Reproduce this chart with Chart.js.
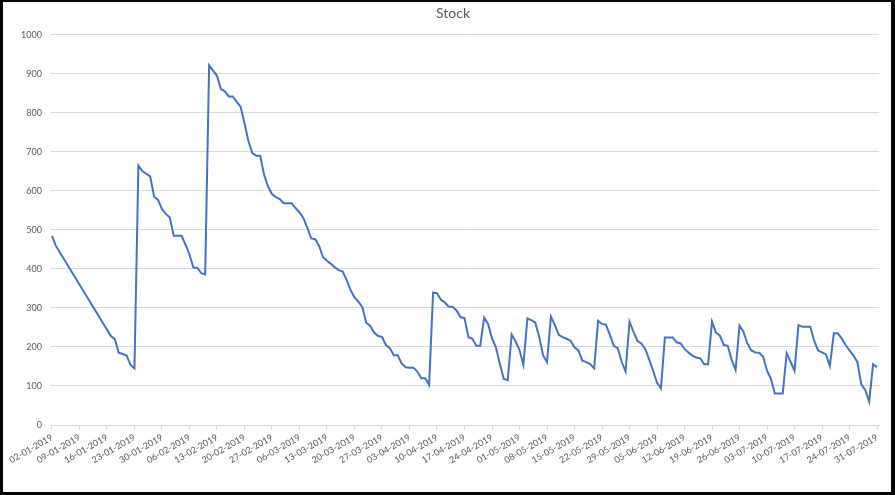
<!DOCTYPE html>
<html>
<head>
<meta charset="utf-8">
<script src="https://cdn.jsdelivr.net/npm/chart.js@4.4.1/dist/chart.umd.min.js"></script>
<style>
  html, body { margin: 0; padding: 0; background: #000; width: 895px; height: 495px; overflow: hidden; }
  #frame { position: absolute; left: 3px; top: 2px; width: 888px; height: 490px; background: #fff; }
  canvas { display: block; }
</style>
</head>
<body>
<div id="frame"><canvas id="stockChart" width="888" height="490"></canvas></div>
<script>
const chartTitle = "Stock";

// one label per week, the day index of tick k is k * 7
const tickLabels = [
  "02-01-2019", "09-01-2019", "16-01-2019", "23-01-2019", "30-01-2019", "06-02-2019",
  "13-02-2019", "20-02-2019", "27-02-2019", "06-03-2019", "13-03-2019", "20-03-2019",
  "27-03-2019", "03-04-2019", "10-04-2019", "17-04-2019", "24-04-2019", "01-05-2019",
  "08-05-2019", "15-05-2019", "22-05-2019", "29-05-2019", "05-06-2019", "12-06-2019",
  "19-06-2019", "26-06-2019", "03-07-2019", "10-07-2019", "17-07-2019", "24-07-2019",
  "31-07-2019"
];

// daily stock from 02-01-2019 (index 0) to 31-07-2019 (index 210), null = no entry
const stock = [
  485, 459, null, null, null, null, null, null, null, null,
  null, null, null, null, null, 228, 220, 185, 182, 178,
  154, 145, 665, 651, 644, 637, 585, 577, 553, 541,
  532, 485, 485, 485, 462, 437, 403, 403, 389, 386,
  922, 908, 895, 861, 855, 842, 842, 829, 816, 774,
  728, 697, 690, 690, 641, 611, 592, 584, 579, 568,
  568, 568, 556, 545, 530, 505, 478, 476, 459, 430,
  421, 413, 404, 397, 393, 372, 346, 327, 316, 302,
  262, 254, 237, 228, 226, 205, 197, 179, 179, 158,
  148, 147, 147, 137, 120, 120, 103, 339, 338, 321,
  314, 303, 303, 293, 276, 274, 225, 221, 203, 203,
  275, 259, 222, 199, 156, 118, 115, 232, 214, 192,
  154, 273, 269, 263, 226, 179, 161, 278, 256, 231,
  225, 221, 216, 199, 191, 165, 161, 156, 145, 267,
  259, 257, 231, 203, 197, 162, 137, 265, 239, 216,
  209, 195, 168, 139, 108, 94, 224, 224, 224, 212,
  209, 195, 186, 178, 173, 171, 156, 156, 265, 237,
  229, 205, 203, 167, 141, 255, 239, 209, 191, 186,
  185, 175, 139, 118, 81, 81, 81, 184, 162, 139,
  256, 252, 252, 252, 216, 191, 186, 181, 151, 235,
  235, 222, 205, 191, 178, 161, 104, 90, 60, 156,
  148
];

const gray = "#595959";
const gridGray = "#d9d9d9";
const fontFamily = "Lato, 'Open Sans', sans-serif";

// the title in the original sits a bit right of the canvas centre
const shiftTitle = {
  id: "shiftTitle",
  afterLayout(chart) {
    if (chart.titleBlock) chart.titleBlock.left += 24;
  },
};

const ctx = document.getElementById("stockChart").getContext("2d");
new Chart(ctx, {
  type: "line",
  data: {
    datasets: [
      {
        label: chartTitle,
        data: stock.map((v, i) => ({ x: i, y: v })),
        borderColor: "#4472c4",
        borderWidth: 2,
        pointRadius: 0,
        tension: 0,
        spanGaps: true,
        fill: false,
      },
    ],
  },
  options: {
    responsive: false,
    animation: false,
    devicePixelRatio: 1,
    layout: { padding: { left: 0, right: 12, top: 0, bottom: 0 } },
    plugins: {
      legend: { display: false },
      tooltip: { enabled: false },
      title: {
        display: true,
        text: chartTitle,
        color: gray,
        font: { family: fontFamily, size: 14, weight: "normal" },
        padding: { top: 3, bottom: 13 },
      },
    },
    scales: {
      x: {
        type: "linear",
        min: -0.5,
        max: stock.length - 0.5,
        afterBuildTicks: (scale) => {
          scale.ticks = tickLabels.map((l, i) => ({ value: i * 7 }));
        },
        afterFit: (scale) => {
          scale.height = 67;
        },
        ticks: {
          autoSkip: false,
          minRotation: 30,
          maxRotation: 30,
          padding: 2,
          color: gray,
          font: { family: fontFamily, size: 9 },
          callback: (value, index) => tickLabels[index],
        },
        grid: { drawOnChartArea: false, drawTicks: true, tickLength: 5, color: gridGray },
        border: { display: true, color: gridGray },
      },
      y: {
        min: 0,
        max: 1000,
        afterFit: (scale) => {
          scale.width = 47;
        },
        ticks: {
          stepSize: 100,
          padding: 8,
          color: gray,
          font: { family: fontFamily, size: 9 },
          callback: (value) => String(value),
        },
        grid: { color: gridGray, drawTicks: false },
        border: { display: false },
      },
    },
  },
  plugins: [shiftTitle],
});
</script>
</body>
</html>
